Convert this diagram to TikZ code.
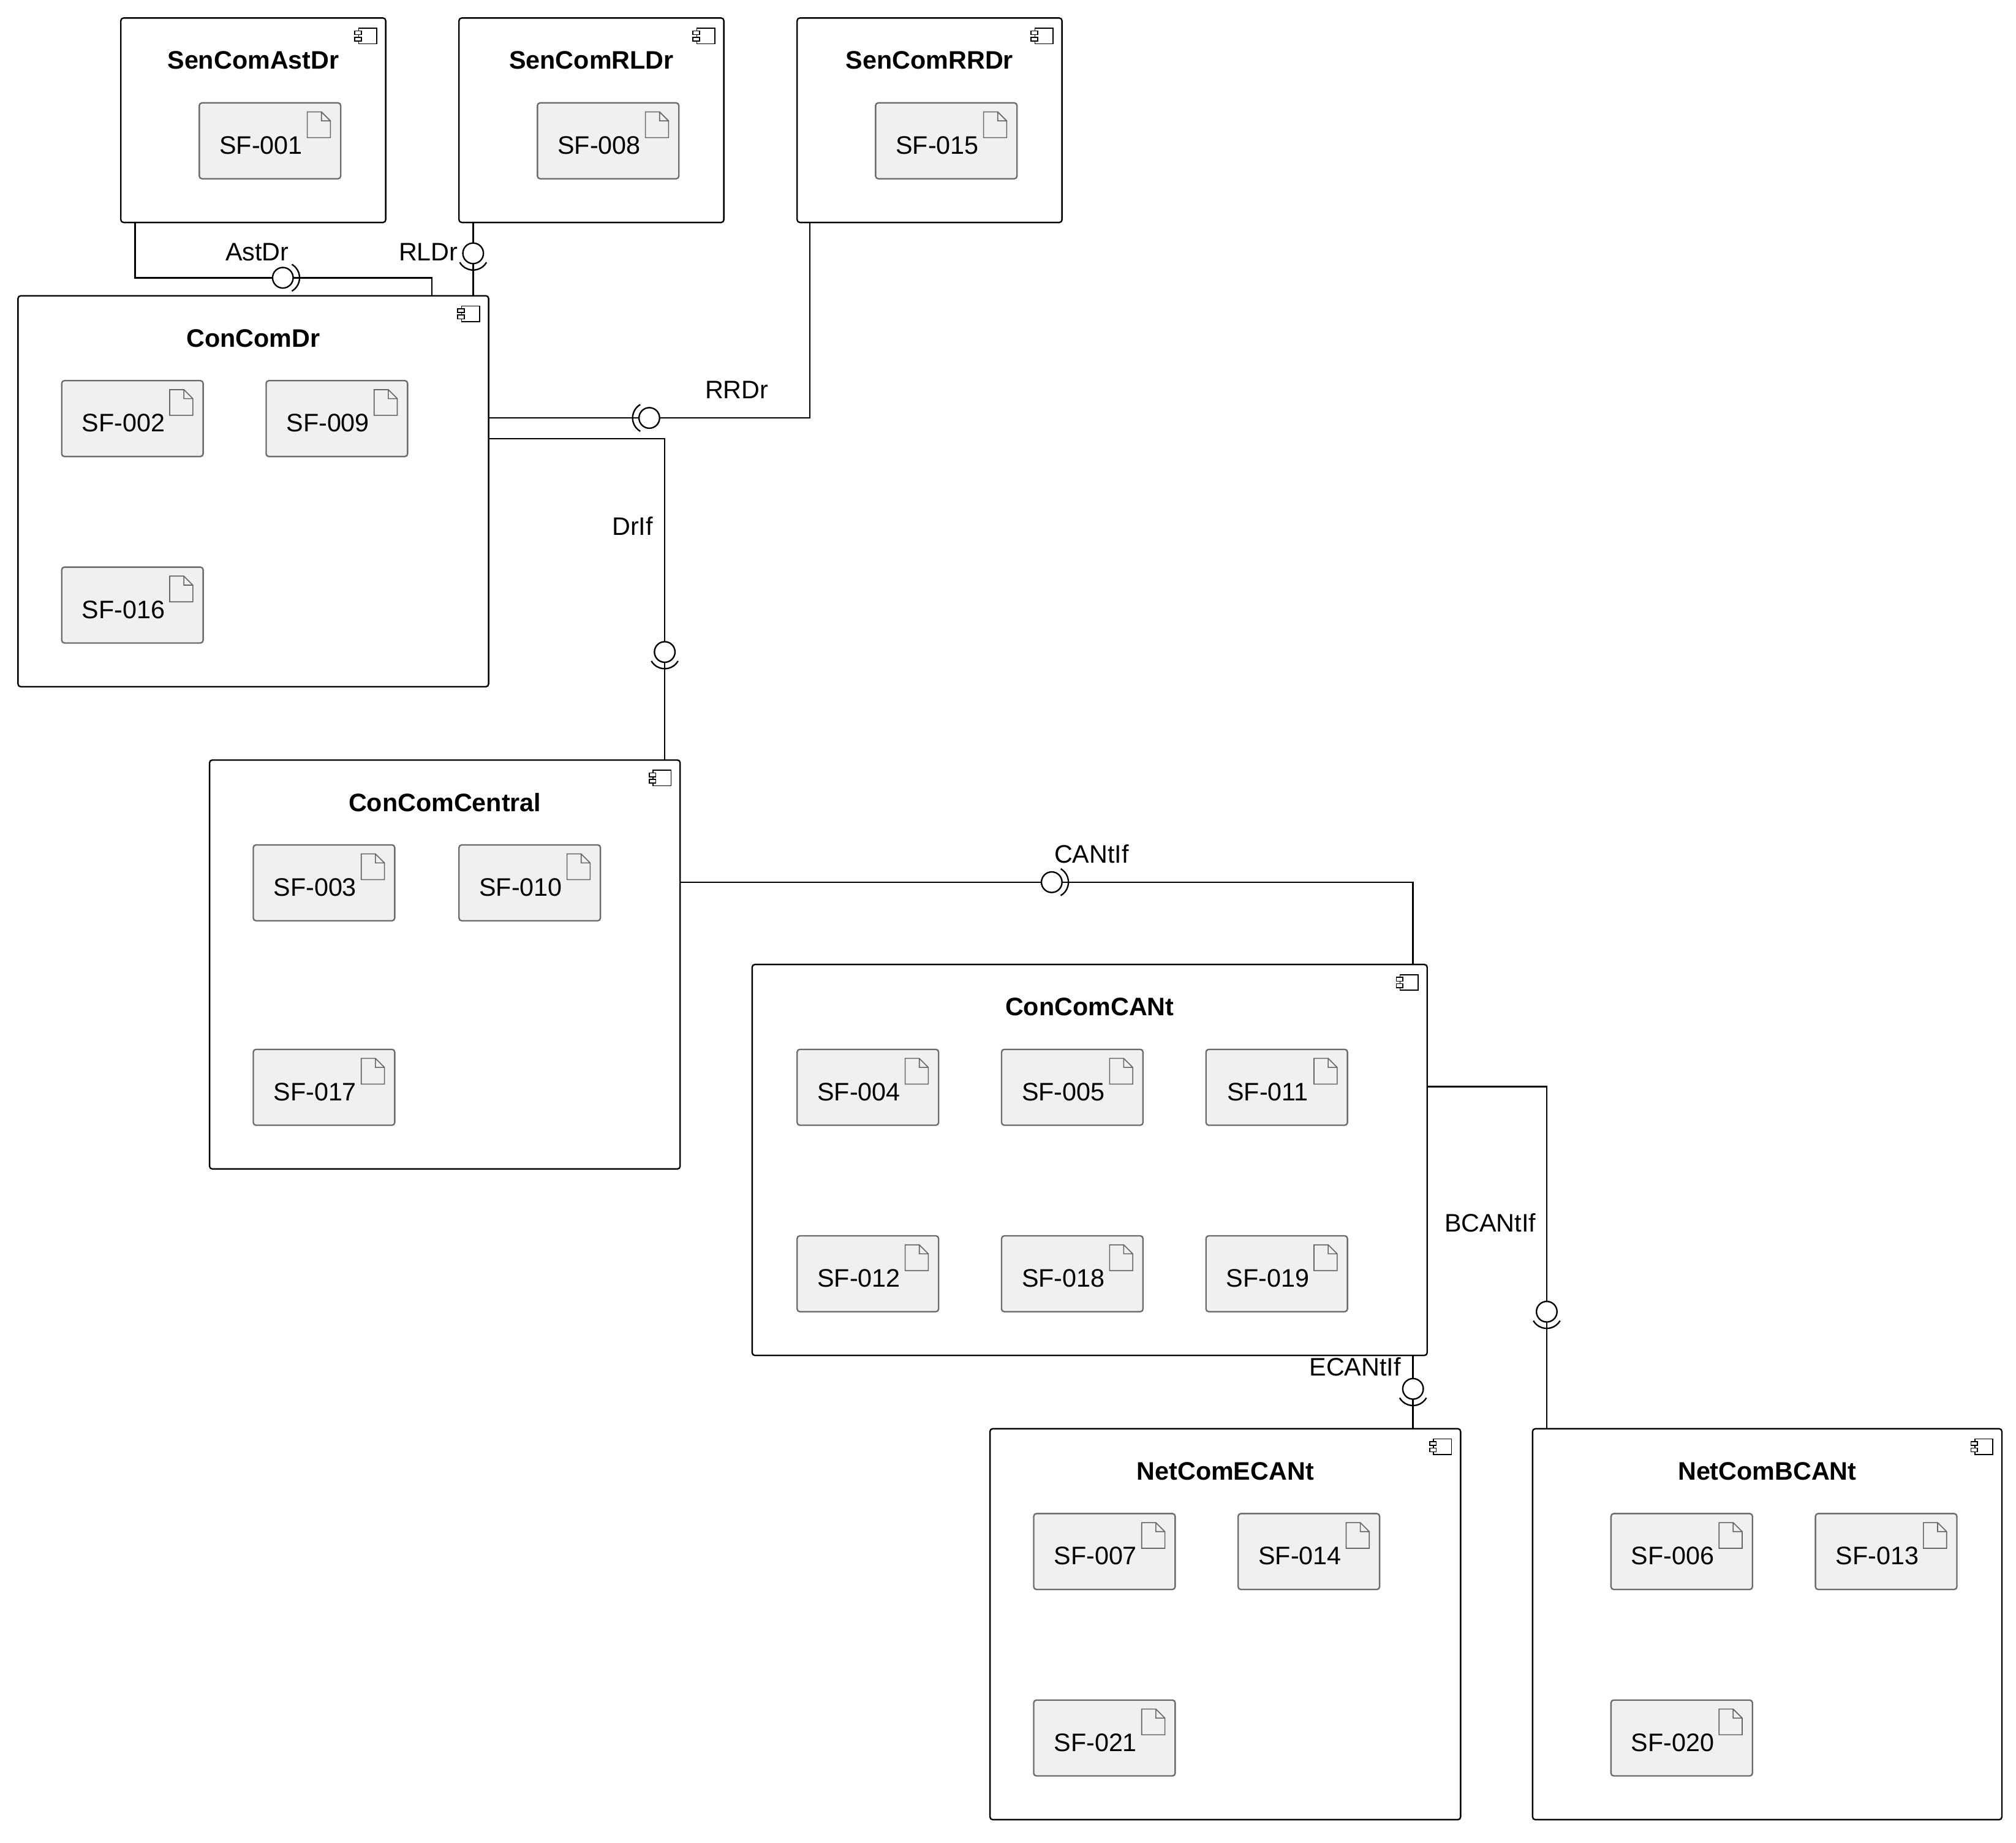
\documentclass[tikz,border=0pt]{standalone}
\usepackage{fontspec}
\setmainfont{Liberation Sans}
\begin{document}
\begin{tikzpicture}[x=0.05cm,y=-0.05cm,line width=1.6pt,
  comp/.style={draw=black,fill=white,rounded corners=3pt},
  art/.style={draw=gray!85!black,fill=black!6,rounded corners=3pt},
  ttl/.style={font=\fontsize{28}{32}\selectfont\bfseries},
  lbl/.style={font=\fontsize{28}{32}\selectfont},
  lnk/.style={draw=black,line width=1.6pt}]
\useasboundingbox (0,0) rectangle (1568,1433);
\newcommand\mycomp[6]{% name x1 y1 x2 y2 title
  \draw[comp] (#2,#3) rectangle (#4,#5);
  \node[ttl] (#1) at ({(#2+#4)/2},#3+33) {#6};
  \draw[line width=1.1pt] (#4-21,#3+8) rectangle (#4-7,#3+20);
  \draw[line width=1.1pt,fill=white] (#4-24,#3+10) rectangle (#4-19,#3+13);
  \draw[line width=1.1pt,fill=white] (#4-24,#3+15) rectangle (#4-19,#3+18);
}
\newcommand\myart[4]{% name x y label
  \draw[art] (#2,#3) rectangle (#2+110,#3+59);
  \node[lbl] (#1) at (#2+48,#3+33) {#4};
  \draw[gray!80!black,line width=1.1pt] (#2+84,#3+7) -- (#2+84,#3+27) -- (#2+102,#3+27) -- (#2+102,#3+14) -- (#2+95,#3+7) -- cycle (#2+95,#3+7) -- (#2+95,#3+14) -- (#2+102,#3+14);
}
\mycomp{astdr}{94}{14}{300}{173}{SenComAstDr}
\myart{a1}{155}{80}{SF-001}
\mycomp{rldr}{357}{14}{563}{173}{SenComRLDr}
\myart{a8}{418}{80}{SF-008}
\mycomp{rrdr}{620}{14}{826}{173}{SenComRRDr}
\myart{a15}{681}{80}{SF-015}

\coordinate (c1) at (105,216); \coordinate (c2) at (336,216);
\draw[lnk] (105,173) -- (c1) -- (c2) -- (336,230);
\draw[lnk] (368,173) -- (368,230);
\draw[lnk] (380,325) -- (630,325) -- (630,173);
\draw[lnk] (380,341) -- (517,341) -- (517,591);
\draw[lnk] (529,686) -- (1099,686) -- (1099,750);
\draw[lnk] (1110,845) -- (1203,845) -- (1203,1111);
\draw[lnk] (1099,1054) -- (1099,1111);

\mycomp{ccdr}{14}{230}{380}{534}{ConComDr}
\myart{a2}{48}{296}{SF-002}
\myart{a9}{207}{296}{SF-009}
\myart{a16}{48}{441}{SF-016}
\mycomp{cccen}{163}{591}{529}{909}{ConComCentral}
\myart{a3}{197}{657}{SF-003}
\myart{a10}{357}{657}{SF-010}
\myart{a17}{197}{816}{SF-017}
\mycomp{cccan}{585}{750}{1110}{1054}{ConComCANt}
\myart{a4}{620}{816}{SF-004}
\myart{a5}{779}{816}{SF-005}
\myart{a11}{938}{816}{SF-011}
\myart{a12}{620}{961}{SF-012}
\myart{a18}{779}{961}{SF-018}
\myart{a19}{938}{961}{SF-019}
\mycomp{ncecan}{770}{1111}{1136}{1415}{NetComECANt}
\myart{a7}{804}{1177}{SF-007}
\myart{a14}{963}{1177}{SF-014}
\myart{a21}{804}{1322}{SF-021}
\mycomp{ncbcan}{1192}{1111}{1557}{1415}{NetComBCANt}
\myart{a6}{1253}{1177}{SF-006}
\myart{a13}{1412}{1177}{SF-013}
\myart{a20}{1253}{1322}{SF-020}

\newcommand\lolR[2]{\draw[fill=white] (#1,#2) circle[radius=8]; \draw (#1+1,#2) ++(60:12) arc[start angle=60,end angle=-60,radius=12];}
\newcommand\lolL[2]{\draw[fill=white] (#1,#2) circle[radius=8]; \draw (#1-1,#2) ++(120:12) arc[start angle=120,end angle=240,radius=12];}
\newcommand\lolD[2]{\draw[fill=white] (#1,#2) circle[radius=8]; \draw (#1,#2+1) ++(30:12) arc[start angle=30,end angle=150,radius=12];}
\lolR{220}{216}
\lolD{368}{197}
\lolL{505}{325}
\lolD{517}{507}
\lolR{818}{686}
\lolD{1203}{1020}
\lolD{1099}{1080}

\node[lbl] (lastdr) at (200,196) {AstDr};
\node[lbl,anchor=east] (lrldr) at (359,196) {RLDr};
\node[lbl] (lrrdr) at (573,303) {RRDr};
\node[lbl] (ldrif) at (492,409) {DrIf};
\node[lbl] (lcan) at (849,664) {CANtIf};
\node[lbl] (lbcan) at (1159,951) {BCANtIf};
\node[lbl] (lecan) at (1054,1063) {ECANtIf};
\end{tikzpicture}
\end{document}
